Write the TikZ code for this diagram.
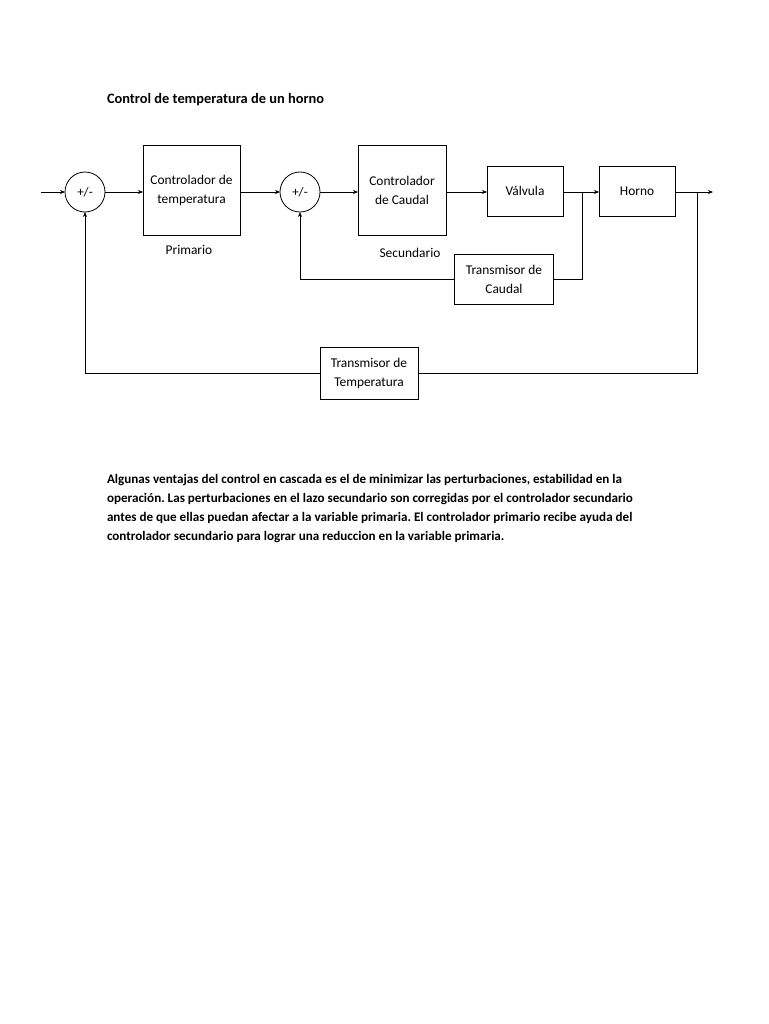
\documentclass[tikz,border=0pt]{standalone}
\usepackage{fontspec}
\setmainfont{Carlito}
\usetikzlibrary{arrows.meta}
\begin{document}
\frenchspacing
\begin{tikzpicture}[x=1pt,y=-1pt,
  every node/.style={inner sep=0pt,outer sep=0pt},
  blk/.style={draw,line width=0.8pt,align=center,font=\fontsize{13.4}{19}\selectfont},
  sumc/.style={draw,circle,line width=0.8pt,minimum size=40pt,font=\fontsize{13}{15}\selectfont},
  conn/.style={line width=0.8pt},
  arr/.style={conn,-{Stealth[length=5pt,width=4pt]}},
  lbl/.style={font=\fontsize{13.4}{15}\selectfont}]
\useasboundingbox (0,0) rectangle (768,1024);
\fill[white] (0,0) rectangle (768,1024);
\node[anchor=west,font=\bfseries\fontsize{14.4}{16}\selectfont] (title) at (107,100) {Control de temperatura de un horno};
\node[sumc] (c1) at (85,192) {+/-};
\node[sumc] (c2) at (300,192) {+/-};
\node[blk,minimum width=97pt,minimum height=90pt] (b1) at (191.5,190) {Controlador de\\temperatura};
\node[blk,minimum width=88pt,minimum height=90pt] (b2) at (402,190) {Controlador\\de Caudal};
\node[blk,minimum width=76pt,minimum height=50pt] (v) at (525,191) {Válvula};
\node[blk,minimum width=76pt,minimum height=50pt] (h) at (637,191) {Horno};
\node[blk,minimum width=99pt,minimum height=50pt] (tdc) at (504,279) {Transmisor de\\Caudal};
\node[blk,minimum width=98pt,minimum height=52pt] (tdt) at (369,373) {Transmisor de\\Temperatura};
\node[lbl] (prim) at (189,250) {Primario};
\node[lbl] (sec) at (410,253) {Secundario};
\coordinate (in) at (41,192);
\coordinate (out) at (713,192);
\coordinate (j1) at (582,192);
\coordinate (j2) at (697,192);
\draw[arr] (in) -- (c1.west);
\draw[arr] (c1.east) -- (c1.east -| b1.west);
\draw[arr] (b1.east |- c2) -- (c2.west);
\draw[arr] (c2.east) -- (c2.east -| b2.west);
\draw[arr] (b2.east |- c2) -- (c2 -| v.west);
\draw[arr] (c2 -| v.east) -- (c2 -| h.west);
\draw[arr] (c2 -| h.east) -- (out);
\draw[conn] (j1) |- (tdc.east);
\draw[arr] (tdc.west) -| (c2.south);
\draw[conn] (j2) |- (tdt.east);
\draw[arr] (tdt.west) -| (c1.south);
\node[anchor=north west,align=left,font=\bfseries\fontsize{13.1}{19}\selectfont] (body) at (107,474) {Algunas ventajas del control en cascada es el de minimizar las perturbaciones, estabilidad en la\\operación. Las perturbaciones en el lazo secundario son corregidas por el controlador secundario\\antes de que ellas puedan afectar a la variable primaria. El controlador primario recibe ayuda del\\controlador secundario para lograr una reduccion en la variable primaria.};
\end{tikzpicture}
\end{document}
